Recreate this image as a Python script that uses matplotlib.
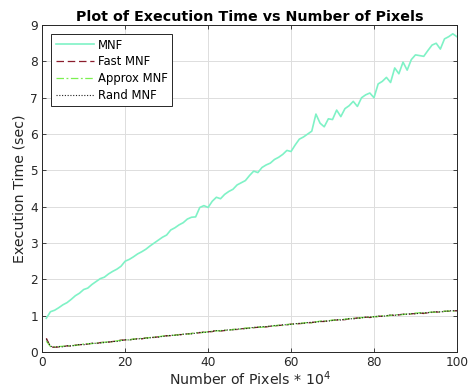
"""Execution time vs number of pixels for the four MNF variants."""
import matplotlib
matplotlib.use("Agg")
import matplotlib.pyplot as plt
import numpy as np

# number of pixels (x 10^4)
PIXELS = np.arange(1, 101)

MNF = [
    0.93, 1.11, 1.15, 1.22, 1.30, 1.36, 1.45, 1.55, 1.62, 1.72,
    1.76, 1.86, 1.94, 2.02, 2.06, 2.15, 2.22, 2.28, 2.36, 2.50,
    2.55, 2.62, 2.70, 2.76, 2.83, 2.92, 3.00, 3.08, 3.16, 3.22,
    3.36, 3.42, 3.50, 3.56, 3.66, 3.71, 3.72, 3.98, 4.03, 3.98,
    4.15, 4.26, 4.22, 4.34, 4.42, 4.48, 4.60, 4.66, 4.72, 4.86,
    4.98, 4.94, 5.08, 5.15, 5.20, 5.30, 5.36, 5.44, 5.55, 5.52,
    5.70, 5.86, 5.92, 6.00, 6.08, 6.55, 6.30, 6.20, 6.42, 6.40,
    6.66, 6.48, 6.70, 6.78, 6.90, 6.76, 7.00, 7.08, 7.13, 7.00,
    7.38, 7.45, 7.56, 7.42, 7.82, 7.66, 7.98, 7.76, 8.05, 8.18,
    8.16, 8.14, 8.30, 8.45, 8.50, 8.34, 8.62, 8.68, 8.76, 8.68,
]
FAST_MNF = [
    0.38, 0.14, 0.13, 0.14, 0.15, 0.17, 0.16, 0.19, 0.20, 0.21,
    0.22, 0.24, 0.23, 0.26, 0.27, 0.27, 0.29, 0.30, 0.33, 0.33,
    0.34, 0.35, 0.37, 0.36, 0.39, 0.40, 0.40, 0.42, 0.43, 0.45,
    0.45, 0.47, 0.48, 0.48, 0.50, 0.51, 0.52, 0.53, 0.55, 0.56,
    0.56, 0.60, 0.58, 0.59, 0.61, 0.62, 0.62, 0.64, 0.65, 0.66,
    0.67, 0.68, 0.69, 0.69, 0.71, 0.72, 0.73, 0.74, 0.75, 0.77,
    0.77, 0.78, 0.79, 0.80, 0.81, 0.83, 0.84, 0.84, 0.86, 0.87,
    0.88, 0.89, 0.89, 0.91, 0.92, 0.94, 0.93, 0.96, 0.95, 0.96,
    0.98, 0.99, 1.00, 1.01, 1.01, 1.02, 1.04, 1.03, 1.05, 1.06,
    1.07, 1.06, 1.08, 1.09, 1.10, 1.10, 1.12, 1.12, 1.13, 1.14,
]
APPROX_MNF = [
    0.30, 0.15, 0.14, 0.15, 0.16, 0.16, 0.18, 0.18, 0.20, 0.22,
    0.23, 0.23, 0.25, 0.25, 0.27, 0.28, 0.28, 0.31, 0.32, 0.34,
    0.33, 0.36, 0.36, 0.38, 0.38, 0.40, 0.41, 0.42, 0.44, 0.44,
    0.46, 0.46, 0.48, 0.49, 0.49, 0.51, 0.53, 0.53, 0.54, 0.56,
    0.57, 0.58, 0.59, 0.60, 0.60, 0.62, 0.63, 0.63, 0.66, 0.66,
    0.67, 0.69, 0.68, 0.70, 0.71, 0.72, 0.74, 0.73, 0.76, 0.76,
    0.78, 0.78, 0.80, 0.81, 0.80, 0.83, 0.85, 0.85, 0.86, 0.88,
    0.87, 0.90, 0.90, 0.92, 0.93, 0.93, 0.95, 0.95, 0.97, 0.97,
    0.98, 1.00, 0.99, 1.01, 1.02, 1.03, 1.03, 1.05, 1.05, 1.07,
    1.08, 1.07, 1.09, 1.10, 1.09, 1.11, 1.12, 1.13, 1.12, 1.15,
]
RAND_MNF = [
    0.35, 0.16, 0.13, 0.15, 0.14, 0.17, 0.17, 0.18, 0.21, 0.20,
    0.22, 0.24, 0.24, 0.25, 0.26, 0.28, 0.29, 0.29, 0.31, 0.34,
    0.33, 0.35, 0.36, 0.37, 0.38, 0.39, 0.41, 0.41, 0.43, 0.44,
    0.46, 0.46, 0.47, 0.49, 0.50, 0.50, 0.52, 0.54, 0.54, 0.55,
    0.57, 0.59, 0.58, 0.60, 0.61, 0.61, 0.63, 0.64, 0.64, 0.66,
    0.68, 0.68, 0.70, 0.70, 0.71, 0.73, 0.73, 0.75, 0.75, 0.76,
    0.78, 0.79, 0.79, 0.81, 0.82, 0.82, 0.84, 0.85, 0.85, 0.87,
    0.89, 0.88, 0.90, 0.92, 0.91, 0.93, 0.94, 0.96, 0.96, 0.97,
    0.99, 0.98, 1.00, 1.02, 1.01, 1.03, 1.04, 1.04, 1.06, 1.05,
    1.07, 1.08, 1.08, 1.10, 1.11, 1.10, 1.12, 1.13, 1.14, 1.13,
]

X_TICKS = [0, 20, 40, 60, 80, 100]
Y_TICKS = list(range(0, 10))

plt.rcParams["font.family"] = ["DejaVu Sans"]

fig = plt.figure(figsize=(4.74, 3.92), dpi=100)
ax = fig.add_axes([0.089, 0.102, 0.875, 0.834])

ax.plot(PIXELS, MNF, color="#7ff2c6", lw=1.2, label="MNF")
ax.plot(PIXELS, FAST_MNF, color="#8b1c2c", lw=0.9, ls=(0, (6, 3)), label="Fast MNF")
ax.plot(PIXELS, APPROX_MNF, color="#7cf050", lw=0.9, ls=(0, (6, 2, 1.5, 2)), label="Approx MNF")
ax.plot(PIXELS, RAND_MNF, color="#222222", lw=0.8, ls=(0, (1, 1.5)), label="Rand MNF")

ax.set_xlim(0, 100)
ax.set_ylim(0, 9)
ax.set_xticks(X_TICKS)
ax.set_yticks(Y_TICKS)
ax.grid(True, color="#dddddd", lw=0.7)
ax.set_axisbelow(True)
ax.tick_params(direction="in", top=True, right=True, length=3, width=0.6,
               labelsize=8.7, colors="#262626", pad=3)
for sp in ax.spines.values():
    sp.set_color("#262626")
    sp.set_linewidth(0.7)

ax.set_title("Plot of Execution Time vs Number of Pixels", fontsize=10.3,
             fontweight="bold", pad=3)
ax.set_xlabel(r"Number of Pixels * 10$^4$", fontsize=10.2, color="#262626", labelpad=0)
ax.set_ylabel("Execution Time (sec)", fontsize=10.2, color="#262626", labelpad=3)

leg = ax.legend(loc="upper left", fontsize=8.4, handlelength=3.3, handletextpad=0.3,
                labelspacing=0.32, borderpad=0.4, fancybox=False, framealpha=1,
                edgecolor="#262626", borderaxespad=0.75)
leg.get_frame().set_linewidth(0.7)

fig.savefig("out.png", dpi=100)
